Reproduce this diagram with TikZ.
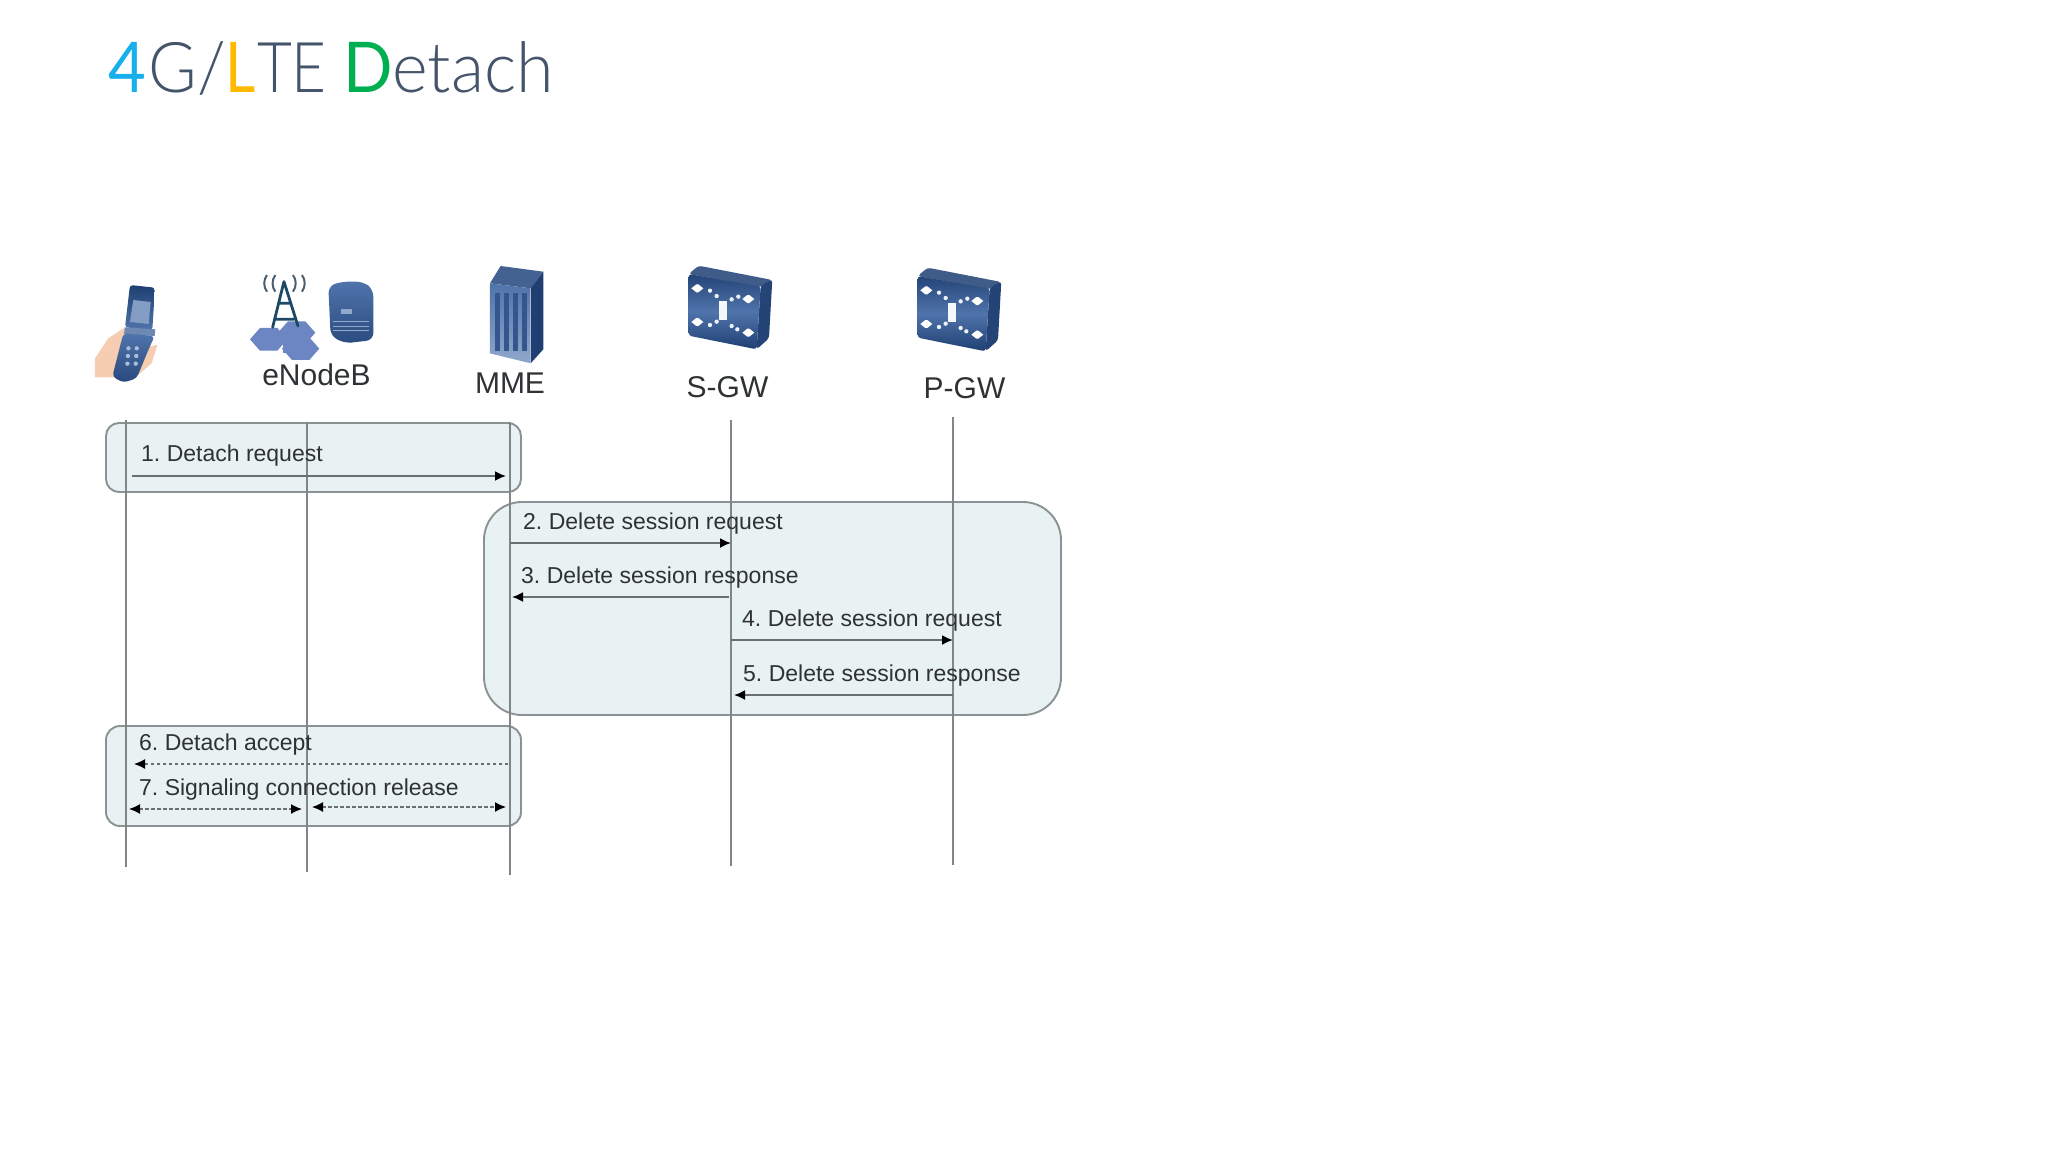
\documentclass[tikz,border=0pt]{standalone}
\usepackage{fontspec}
\setmainfont{Liberation Sans}
\newfontfamily\titlefont[FakeStretch=0.945]{Lato Light}
\newfontfamily\titleetach[FakeStretch=0.975]{Lato Light}
\newfontfamily\titlete[FakeStretch=0.86]{Lato Light}
\newfontfamily\titlebold[FakeStretch=0.93]{Lato}
\newfontfamily\titleboldl[FakeStretch=0.84]{Lato}
\usetikzlibrary{arrows.meta}
\definecolor{boxfill}{HTML}{E9F2F3}
\definecolor{boxline}{HTML}{8A9293}
\definecolor{lifecol}{HTML}{808686}
\definecolor{msgcol}{HTML}{6A6F70}
\definecolor{txtcol}{HTML}{2F3234}
\definecolor{titlecol}{HTML}{44546A}
\definecolor{tblue}{HTML}{17B0EC}
\definecolor{tyellow}{HTML}{FFBA00}
\definecolor{tgreen}{HTML}{00B050}
\definecolor{icondark}{HTML}{1F3F72}
\definecolor{iconmid}{HTML}{4F73AB}
\definecolor{iconlight}{HTML}{8FA8CC}
\definecolor{hexcol}{HTML}{6C86C4}
\definecolor{handcol}{HTML}{F6CDB0}
\definecolor{towercol}{HTML}{1C4A66}
\definecolor{arccol}{HTML}{4A5F70}
\tikzset{
  groupbox/.style={draw=boxline,fill=boxfill,line width=1.9pt},
  lifeline/.style={draw=lifecol,line width=1.8pt},
  msg/.style={draw=msgcol,line width=1.8pt,-{Latex[length=11pt,width=10pt,black]}},
  msgdash/.style={draw=msgcol,line width=1.3pt,dash pattern=on 3.5pt off 2.5pt,-{Latex[length=11pt,width=10pt,black]}},
  msgboth/.style={msgdash,{Latex[length=11pt,width=10pt,black]}-{Latex[length=11pt,width=10pt,black]}},
  msglabel/.style={anchor=base west,inner sep=0pt,text=txtcol,font=\frenchspacing\fontsize{23}{27}\selectfont},
  iconlabel/.style={anchor=base,inner sep=0pt,text=txtcol,font=\fontsize{30}{34}\selectfont},
}
\newcommand{\hexcell}[2]{\fill[hexcol] (#1-56,#2) -- (#1-26,#2-34) -- (#1+26,#2-34) -- (#1+56,#2) -- (#1+26,#2+34) -- (#1-26,#2+34) -- cycle;}
\newcommand{\gwdiamond}[2]{\fill[white] (#1-18,#2) -- (#1-3,#2-12) -- (#1+3,#2-12) -- (#1+18,#2) -- (#1+3,#2+12) -- (#1-3,#2+12) -- cycle;}
\newcommand{\gwdot}[2]{\fill[white!85!iconlight] (#1,#2) circle (6.5);}
\newcommand{\gwicon}{%
  \fill[iconmid!80!black,rounded corners=3pt] (266,72) -- (296,47) -- (517,90) -- (482,112) -- cycle;
  \fill[icondark!90!iconmid,rounded corners=3pt] (482,108) -- (517,88) -- (507,265) -- (470,298) -- cycle;
  \shade[top color=icondark!90!iconmid,bottom color=icondark,middle color=iconmid,rounded corners=3pt] (266,72) -- (482,110) -- (470,298) -- (266,257) -- cycle;
  \gwdiamond{292}{115}\gwdot{330}{122}\gwdot{350}{138}
  \gwdiamond{445}{147}\gwdot{395}{148}\gwdot{415}{140}
  \gwdiamond{292}{216}\gwdot{330}{225}\gwdot{350}{215}
  \gwdiamond{445}{248}\gwdot{395}{228}\gwdot{412}{238}
  \fill[white!90!iconlight] (356,153) rectangle (381,210);
}
\begin{document}
\begin{tikzpicture}[x=1pt,y=-1pt]
\useasboundingbox[fill=white] (0,0) rectangle (2048,1152);

% title
\node[anchor=base west,inner sep=0pt,text=titlecol,font=\titlefont\fontsize{70}{80}\selectfont] (title) at (108.5,92)
  {\textcolor{tblue}{\titlebold 4}\kern2.5pt G/\kern-0.5pt\textcolor{tyellow}{\titleboldl L}\kern1pt{\titlete TE}\kern-1pt\ \textcolor{tgreen}{\titlebold D}\kern-1pt{\titleetach etach}};

% lifeline ends
\coordinate (ue1) at (126,420);  \coordinate (ue2) at (126,867);
\coordinate (en1) at (307,422);  \coordinate (en2) at (307,872);
\coordinate (mm1) at (510,422);  \coordinate (mm2) at (510,875);
\coordinate (sg1) at (731,420);  \coordinate (sg2) at (731,866);
\coordinate (pg1) at (953,417);  \coordinate (pg2) at (953,865);

% group boxes
\draw[groupbox,rounded corners=13pt] (106,423) rectangle (521,492);
\draw[groupbox,rounded corners=38pt] (484,502) rectangle (1061,715);
\draw[groupbox,rounded corners=14pt] (106,726) rectangle (521,826);

% lifelines
\draw[lifeline] (ue1) -- (ue2);
\draw[lifeline] (en1) -- (en2);
\draw[lifeline] (mm1) -- (mm2);
\draw[lifeline] (sg1) -- (sg2);
\draw[lifeline] (pg1) -- (pg2);

% message ends
\coordinate (a1s) at (132,476); \coordinate (a1e) at (506,476);
\coordinate (a2s) at (510,543); \coordinate (a2e) at (731,543);
\coordinate (a3s) at (729,597); \coordinate (a3e) at (512,597);
\coordinate (a4s) at (731,640); \coordinate (a4e) at (953,640);
\coordinate (a5s) at (953,695); \coordinate (a5e) at (734,695);
\coordinate (a6s) at (508,764); \coordinate (a6e) at (134,764);
\coordinate (a7a) at (129,809); \coordinate (a7b) at (302,809);
\coordinate (a7c) at (312,807); \coordinate (a7d) at (506,807);

\draw[msg] (a1s) -- (a1e);
\draw[msg] (a2s) -- (a2e);
\draw[msg] (a3s) -- (a3e);
\draw[msg] (a4s) -- (a4e);
\draw[msg] (a5s) -- (a5e);
\draw[msgdash] (a6s) -- (a6e);
\draw[msgboth] (a7a) -- (a7b);
\draw[msgboth] (a7c) -- (a7d);

% message labels
\node[msglabel] (l1) at (141,461) {1. Detach request};
\node[msglabel] (l2) at (523,529) {2. Delete session request};
\node[msglabel] (l3) at (521,583) {3. Delete session response};
\node[msglabel] (l4) at (742,626) {4. Delete session request};
\node[msglabel] (l5) at (743,681) {5. Delete session response};
\node[msglabel] (l6) at (139,750) {6. Detach accept};
\node[msglabel] (l7) at (139,795) {7. Signaling connection release};

% icon labels
\node[iconlabel] (enb) at (316.5,385) {eNodeB};
\node[iconlabel] (mme) at (510,393) {MME};
\node[iconlabel] (sgw) at (727.5,397) {S-GW};
\node[iconlabel] (pgw) at (964.5,398) {P-GW};

% icons, drawn in crop coordinates
\begin{scope}[shift={(80,250)},x=0.3333pt,y=-0.3333pt]
  % hand
  \fill[handcol] (45,382) -- (45,325) -- (85,265) -- (135,232) -- (150,300) -- (232,285) -- (215,340) -- (178,372) -- (110,382) -- cycle;
  % phone
  \shade[top color=icondark,bottom color=iconmid,rounded corners=3pt] (150,105) -- (225,113) -- (217,240) -- (135,232) -- cycle;
  \fill[iconmid!70!white] (160,150) -- (212,156) -- (206,222) -- (150,216) -- cycle;
  \fill[iconlight!70!icondark] (135,232) -- (226,238) -- (224,258) -- (132,252) -- cycle;
  \shade[top color=iconmid,bottom color=icondark!80!iconmid,rounded corners=4pt] (130,250) -- (224,258) -- (205,300) -- (170,385) -- (130,398) -- (97,380) -- cycle;
  \foreach \kx/\ky in {145,170}
    \foreach \kyy in {295,318,341}
      \fill[iconlight!75!white] (\kx-\kyy/15+20,\kyy) circle (6.5);
  % tower arcs
  \foreach \ax in {555,580}
    \draw[arccol,line width=2pt] (\ax+6,75) .. controls (\ax-5,90) and (\ax-5,110) .. (\ax+6,125);
  \foreach \ax in {645,672}
    \draw[arccol,line width=2pt] (\ax-6,75) .. controls (\ax+5,90) and (\ax+5,110) .. (\ax-6,125);
  % cells
  \hexcell{566}{268}
  \hexcell{650}{248}
  \hexcell{662}{296}
  \fill[hexcol] (610,240) rectangle (640,310);
  % tower
  \draw[towercol,line width=2.8pt,line cap=round] (612,95) -- (578,232) (612,95) -- (654,228) (597,160) -- (628,160) (588,208) -- (642,208);
  % box
  \shade[top color=iconmid,bottom color=icondark!75!iconmid,rounded corners=7pt] (745,108) -- (785,95) -- (850,95) -- (880,118) -- (880,270) -- (795,280) -- (752,258) -- cycle;
  \fill[iconlight] (782,178) rectangle (815,192);
  \foreach \ly in {215,228,241}
    \draw[iconlight,line width=.8pt] (760,\ly) -- (868,\ly);
  % MME rack
  \fill[iconmid!85!black] (1230,100) -- (1262,48) -- (1390,65) -- (1352,115) -- cycle;
  \fill[icondark] (1352,115) -- (1390,65) -- (1390,298) -- (1352,340) -- cycle;
  \shade[top color=iconmid,bottom color=iconlight] (1230,100) -- (1352,115) -- (1352,340) -- (1230,310) -- cycle;
  \foreach \rx in {1245,1272,1299,1326}
    \fill[icondark!55!iconmid] (\rx,128) rectangle +(14,175);
\end{scope}

\begin{scope}[shift={(600,250)},x=0.3333pt,y=-0.3333pt]
  \gwicon
\end{scope}
\begin{scope}[shift={(829,252)},x=0.3333pt,y=-0.3333pt]
  \gwicon
\end{scope}
\end{tikzpicture}
\end{document}
